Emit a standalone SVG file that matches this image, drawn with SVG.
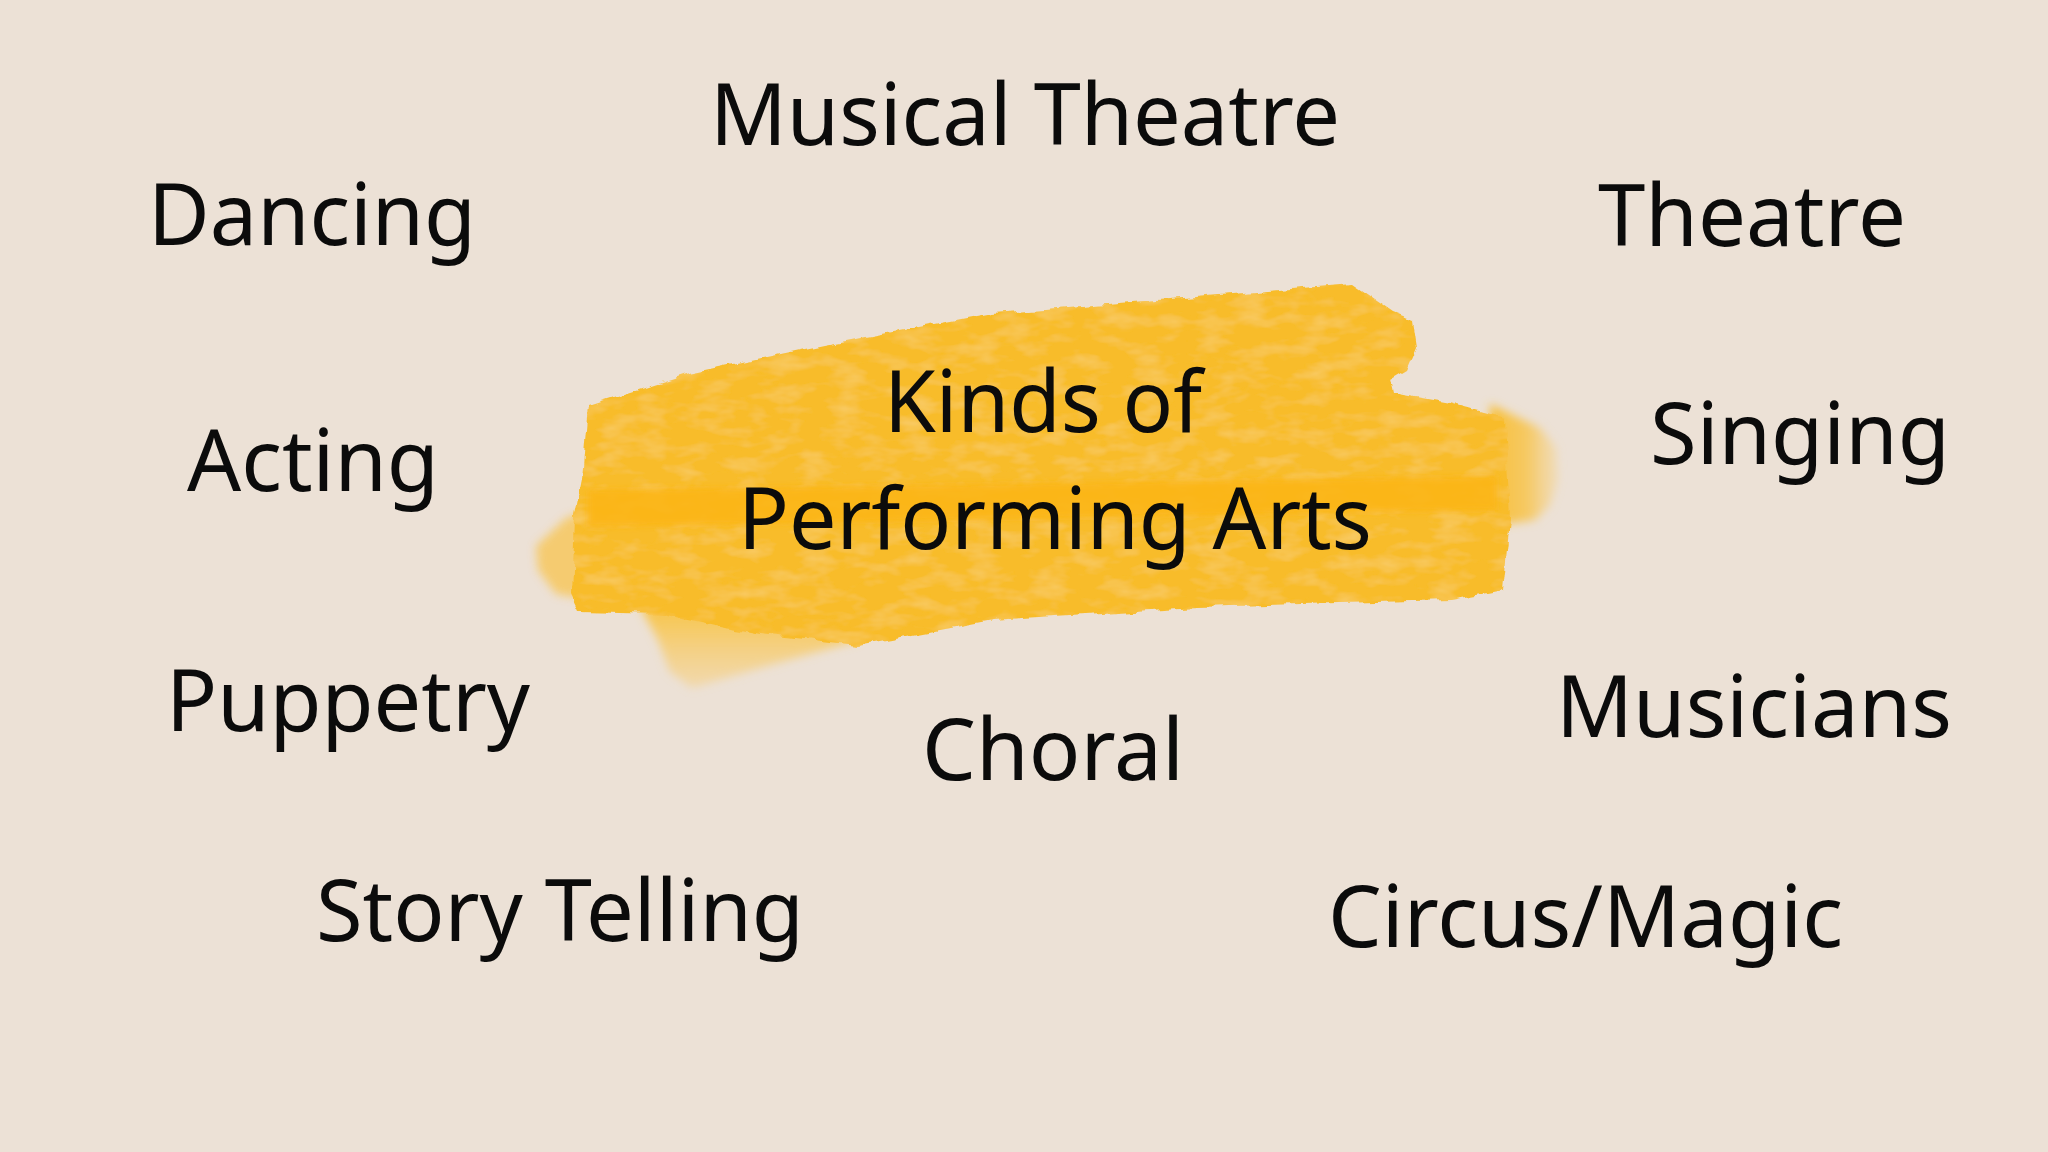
<svg xmlns="http://www.w3.org/2000/svg" width="2048" height="1152" viewBox="0 0 2048 1152">
  <style>
    .lbl { font-family: "Noto Sans", "Open Sans", sans-serif; font-size: 86px; fill: #0b0b0b; }
  </style>
  <defs>
    <filter id="brush" x="-5%" y="-15%" width="110%" height="130%">
      <feTurbulence type="fractalNoise" baseFrequency="0.05" numOctaves="3" seed="3" result="n"/>
      <feDisplacementMap in="SourceGraphic" in2="n" scale="9" xChannelSelector="R" yChannelSelector="G" result="d"/>
      <feTurbulence type="fractalNoise" baseFrequency="0.03 0.07" numOctaves="3" seed="7" result="n2"/>
      <feColorMatrix in="n2" type="matrix" values="0 0 0 0 0.97  0 0 0 0 0.79  0 0 0 0 0.34  0 0 0 0.6 -0.26" result="spots"/>
      <feComposite in="spots" in2="d" operator="in" result="spotsIn"/>
      <feMerge><feMergeNode in="d"/><feMergeNode in="spotsIn"/></feMerge>
    </filter>
    <filter id="soft" x="-20%" y="-20%" width="140%" height="140%">
      <feGaussianBlur stdDeviation="5"/>
    </filter>
    <filter id="band" x="-5%" y="-50%" width="110%" height="200%">
      <feGaussianBlur stdDeviation="3"/>
    </filter>
    <linearGradient id="tipGrad" x1="0" y1="0" x2="1" y2="0">
      <stop offset="0" stop-color="#F8C03A"/>
      <stop offset="0.55" stop-color="#F7C656" stop-opacity="0.9"/>
      <stop offset="1" stop-color="#F6D38A" stop-opacity="0.4"/>
    </linearGradient>
    <linearGradient id="tailGrad" x1="0" y1="0" x2="0" y2="1">
      <stop offset="0" stop-color="#F8C445"/>
      <stop offset="1" stop-color="#F6D083" stop-opacity="0.5"/>
    </linearGradient>
  </defs>
  <rect width="2048" height="1152" fill="#ECE1D6"/>

  <g id="brush-stroke">
    <path d="M 640,606 L 760,610 L 860,640 L 760,668 L 692,688 L 670,672 L 658,640 Z" fill="url(#tailGrad)" filter="url(#soft)"/>
    <path d="M 566,518 L 584,512 L 592,600 L 556,594 L 538,570 L 536,546 Z" fill="#F7C85E" opacity="0.85" filter="url(#soft)"/>
    <path d="M 1490,404 L 1515,416 L 1540,428 L 1556,448 L 1558,480 L 1550,505 L 1535,520 L 1490,526 Z" fill="url(#tipGrad)" filter="url(#soft)"/>
    <g filter="url(#brush)">
      <path d="M 588,405 L 689,373 L 824,345 L 993,313 L 1196,297 L 1352,284 L 1393,312 L 1413,320 L 1417,347 L 1407,370 L 1390,380 L 1393,393 L 1450,403 L 1505,418 L 1510,520 L 1503,590 L 1450,600 L 1196,607 L 993,620 L 858,645 L 760,634 L 662,614 L 580,612 L 572,595 L 575,515 L 582,480 Z" fill="#F8BC2C"/>
    </g>
    <path d="M 588,490 L 1497,476 L 1497,510 L 588,527 Z" fill="#FCB614" opacity="0.9" filter="url(#band)"/>
  </g>

  <g id="center">
    <text class="lbl" x="884" y="432" textLength="318" lengthAdjust="spacingAndGlyphs">Kinds of</text>
    <text class="lbl" x="738" y="549" textLength="634" lengthAdjust="spacingAndGlyphs">Performing Arts</text>
  </g>
  <g id="musical-theatre"><text class="lbl" x="710" y="145" textLength="630" lengthAdjust="spacingAndGlyphs">Musical Theatre</text></g>
  <g id="dancing"><text class="lbl" x="148" y="245" textLength="328" lengthAdjust="spacingAndGlyphs">Dancing</text></g>
  <g id="theatre"><text class="lbl" x="1598" y="246" textLength="308" lengthAdjust="spacingAndGlyphs">Theatre</text></g>
  <g id="acting"><text class="lbl" x="187" y="491" textLength="252" lengthAdjust="spacingAndGlyphs">Acting</text></g>
  <g id="singing"><text class="lbl" x="1650" y="464" textLength="300" lengthAdjust="spacingAndGlyphs">Singing</text></g>
  <g id="puppetry"><text class="lbl" x="166" y="731" textLength="364" lengthAdjust="spacingAndGlyphs">Puppetry</text></g>
  <g id="choral"><text class="lbl" x="922" y="780" textLength="262" lengthAdjust="spacingAndGlyphs">Choral</text></g>
  <g id="musicians"><text class="lbl" x="1556" y="737" textLength="396" lengthAdjust="spacingAndGlyphs">Musicians</text></g>
  <g id="story-telling"><text class="lbl" x="316" y="941" textLength="488" lengthAdjust="spacingAndGlyphs">Story Telling</text></g>
  <g id="circus-magic"><text class="lbl" x="1328" y="947" textLength="515" lengthAdjust="spacingAndGlyphs">Circus/Magic</text></g>

  <g id="connectors"></g>
</svg>
